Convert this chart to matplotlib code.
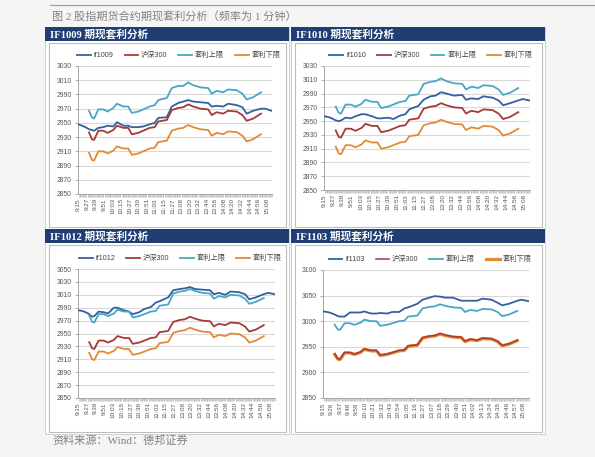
import numpy as np
import matplotlib
matplotlib.use('Agg')
import matplotlib.pyplot as plt
from matplotlib.patches import Rectangle

plt.rcParams['font.family'] = ['Liberation Sans', 'Noto Sans CJK SC']

# ---------------- data ----------------
N_MIN = 272  # 9:15-11:30 and 13:00-15:15, one point per minute
labels12 = ['9:15', '9:27', '9:39', '9:51', '10:03', '10:15', '10:27', '10:39', '10:51',
            '11:03', '11:15', '11:27', '13:08', '13:20', '13:32', '13:44', '13:56', '14:08',
            '14:20', '14:32', '14:44', '14:56', '15:08']
labels11 = ['9:15', '9:26', '9:37', '9:48', '9:59', '10:10', '10:21', '10:32', '10:43', '10:54',
            '11:05', '11:16', '11:27', '13:07', '13:18', '13:29', '13:40', '13:51', '14:02',
            '14:13', '14:24', '14:35', '14:46', '14:57', '15:08']

fut_idx = [0, 5, 10, 15, 19, 22, 28, 35, 41, 49, 54, 63, 70, 75, 84, 91, 100, 107, 112, 124, 131,
           140, 147, 154, 161, 171, 182, 187, 194, 203, 210, 222, 230, 236, 245, 256, 262, 271]
spot_idx = [15, 19, 22, 28, 35, 41, 49, 54, 63, 70, 75, 84, 91, 100, 107, 112, 124, 131,
            140, 147, 154, 161, 171, 182, 187, 194, 203, 210, 222, 230, 236, 245, 256]

hs300 = [2936.5, 2927, 2926, 2939, 2939, 2936, 2940, 2946, 2943, 2943, 2934, 2936, 2939, 2943, 2944,
         2952, 2954, 2968, 2971, 2972, 2976, 2973, 2970, 2969, 2961, 2965, 2963, 2967, 2966, 2961,
         2953, 2956, 2963]

if1009 = [2948, 2946, 2944, 2941, 2940, 2939, 2943, 2944, 2946, 2945, 2951, 2946, 2946, 2944, 2944,
          2945, 2948, 2950, 2957, 2958, 2973, 2978, 2980, 2982, 2980, 2979, 2978, 2973, 2974, 2973,
          2977, 2975, 2972, 2963, 2967, 2970, 2970, 2967]
up1009 = [2967, 2958, 2956, 2969, 2969, 2966, 2971, 2977, 2973, 2973, 2964, 2966, 2969, 2973, 2975,
          2982, 2985, 2999, 3002, 3002, 3007, 3003, 3000, 2999, 2991, 2995, 2993, 2997, 2996, 2991,
          2983, 2986, 2993]
lo1009 = [2908, 2898, 2897, 2910, 2910, 2907, 2911, 2917, 2914, 2914, 2905, 2907, 2910, 2914, 2915,
          2923, 2925, 2939, 2942, 2943, 2947, 2944, 2941, 2940, 2932, 2936, 2934, 2938, 2937, 2932,
          2924, 2927, 2934]

if1010 = [2957, 2956, 2954, 2951, 2950, 2951, 2955, 2954, 2957, 2960, 2960, 2957, 2954, 2954, 2955,
          2953, 2958, 2960, 2967, 2972, 2981, 2986, 2987, 2992, 2990, 2987, 2988, 2981, 2983, 2982,
          2986, 2984, 2980, 2973, 2976, 2980, 2982, 2980]
up1010 = [2971, 2962, 2961, 2974, 2974, 2971, 2975, 2981, 2978, 2978, 2969, 2971, 2974, 2978, 2979,
          2987, 2989, 3004, 3007, 3008, 3012, 3008, 3005, 3004, 2996, 3000, 2998, 3002, 3001, 2996,
          2988, 2991, 2998]
lo1010 = [2913, 2903, 2902, 2915, 2915, 2912, 2916, 2922, 2919, 2919, 2910, 2912, 2915, 2919, 2920,
          2928, 2930, 2944, 2947, 2948, 2952, 2949, 2946, 2945, 2937, 2941, 2939, 2943, 2942, 2937,
          2929, 2932, 2939]

if1012 = [2986, 2985, 2983, 2980, 2976, 2977, 2984, 2983, 2981, 2990, 2990, 2986, 2984, 2980, 2983,
          2988, 2991, 2998, 3000, 3006, 3017, 3019, 3020, 3022, 3019, 3018, 3017, 3011, 3013, 3010,
          3015, 3014, 3011, 3003, 3006, 3011, 3013, 3011]
up1012 = [2978, 2968, 2967, 2980, 2980, 2977, 2981, 2987, 2984, 2984, 2975, 2977, 2980, 2984, 2985,
          2993, 2995, 3012, 3015, 3016, 3019, 3016, 3013, 3012, 3004, 3008, 3006, 3010, 3009, 3004,
          2996, 2999, 3005]
lo1012 = [2920, 2910, 2909, 2922, 2922, 2919, 2923, 2929, 2926, 2926, 2917, 2919, 2922, 2926, 2927,
          2935, 2937, 2951, 2954, 2955, 2959, 2956, 2953, 2952, 2944, 2948, 2946, 2950, 2949, 2944,
          2936, 2939, 2946]

if1103 = [3019, 3018, 3016, 3013, 3010, 3009, 3009, 3017, 3017, 3017, 3019, 3015, 3015, 3016, 3015,
          3018, 3018, 3025, 3027, 3034, 3042, 3046, 3049, 3048, 3046, 3046, 3040, 3040, 3040, 3040,
          3044, 3042, 3036, 3031, 3034, 3040, 3042, 3039]
up1103 = [2993, 2984, 2983, 2996, 2996, 2993, 2997, 3003, 3000, 3000, 2991, 2993, 2996, 3000, 3001,
          3009, 3011, 3025, 3028, 3029, 3033, 3030, 3027, 3026, 3018, 3022, 3020, 3024, 3023, 3018,
          3010, 3013, 3020]
lo1103 = [2935, 2926, 2925, 2938, 2938, 2935, 2939, 2945, 2942, 2942, 2933, 2935, 2938, 2942, 2943,
          2951, 2953, 2967, 2970, 2971, 2975, 2972, 2969, 2968, 2960, 2964, 2962, 2966, 2965, 2960,
          2952, 2955, 2962]

panels = [
    dict(title='IF1009 期现套利分析', name='if1009', fut=if1009, up=up1009, lo=lo1009,
         ylim=(2850, 3030), ystep=20, labels=labels12, lstep=12),
    dict(title='IF1010 期现套利分析', name='if1010', fut=if1010, up=up1010, lo=lo1010,
         ylim=(2850, 3030), ystep=20, labels=labels12, lstep=12),
    dict(title='IF1012 期现套利分析', name='if1012', fut=if1012, up=up1012, lo=lo1012,
         ylim=(2850, 3050), ystep=20, labels=labels12, lstep=12),
    dict(title='IF1103 期现套利分析', name='if1103', fut=if1103, up=up1103, lo=lo1103,
         ylim=(2850, 3100), ystep=50, labels=labels11, lstep=11),
]

# ---------------- layout (pixels) ----------------
W, H = 595, 457
fig = plt.figure(figsize=(W / 100, H / 100), dpi=100, facecolor='#f5f5f5')


def rect(x0, y0, x1, y1, fc, ec='none', lw=0.8):
    fig.patches.append(Rectangle((x0 / W, 1 - y1 / H), (x1 - x0) / W, (y1 - y0) / H,
                                 transform=fig.transFigure, facecolor=fc, edgecolor=ec,
                                 linewidth=lw, zorder=-10))


def fx(x):
    return x / W


def fy(y):
    return 1 - y / H


# top rule and title
fig.add_artist(plt.Line2D([fx(50), fx(595)], [fy(5), fy(5)], color='#9a9a9a', lw=0.8,
                          transform=fig.transFigure))
fig.text(fx(52), fy(17), '图 2 股指期货合约期现套利分析（频率为 1 分钟）', fontsize=8,
         color='#808080', va='center', ha='left',
         family=['Liberation Serif', 'Noto Sans CJK SC'])
fig.text(fx(52), fy(440), '资料来源：Wind：德邦证券', fontsize=8, color='#808080',
         va='center', ha='left', family=['Liberation Serif', 'Noto Sans CJK SC'])

# panel frames: (x0, x1, header_y0, header_y1, box_y1, axes box)
frames = [
    (45, 289, 27, 41, 227, (78, 272, 66, 194)),
    (291, 545, 27, 41, 227, (324, 530, 66, 190)),
    (45, 289, 229, 243, 432, (78, 275, 269, 398)),
    (291, 545, 229, 243, 432, (323, 529, 270, 398)),
]

c_fut, c_hs, c_up, c_lo = '#34609f', '#a63a37', '#47a7c5', '#e38a34'

for p, (x0, x1, hy0, hy1, by1, (ax0, ax1, ay0, ay1)) in zip(panels, frames):
    rect(x0, hy0, x1, by1 + 2, '#ffffff', '#c8c8c8', 0.6)
    rect(x0, hy0, x1, hy1, '#1f3e73')
    rect(x0 + 4, hy1 + 2, x1 - 3, by1, '#ffffff', '#bdbdbd', 0.8)
    fig.text(fx(x0 + 5), fy((hy0 + hy1) / 2 + 0.5), p['title'], color='white', fontsize=7.7,
             fontweight='bold', va='center', ha='left', zorder=5,
             family=['Liberation Serif', 'Noto Sans CJK SC'])

    ax = fig.add_axes([fx(ax0), fy(ay1), (ax1 - ax0) / W, (ay1 - ay0) / H])
    ax.set_zorder(3)
    ax.set_facecolor('white')
    if p['name'] == 'if1103':
        ax.plot(fut_idx, p['fut'], color=c_fut, lw=1.3, label=p['name'], zorder=4)
        ax.plot(spot_idx, hs300, color=c_hs, lw=1.1, label='沪深300', zorder=5)
        ax.plot(spot_idx, p['up'], color=c_up, lw=1.3, label='套利上限', zorder=3)
        ax.plot(spot_idx, p['lo'], color=c_lo, lw=2.3, label='套利下限', zorder=2)
    else:
        ax.plot(fut_idx, p['fut'], color=c_fut, lw=1.3, label=p['name'], zorder=3)
        ax.plot(spot_idx, hs300, color=c_hs, lw=1.3, label='沪深300', zorder=3)
        ax.plot(spot_idx, p['up'], color=c_up, lw=1.3, label='套利上限', zorder=3)
        ax.plot(spot_idx, p['lo'], color=c_lo, lw=1.3, label='套利下限', zorder=3)

    ax.set_xlim(-0.5, N_MIN - 0.5)
    ax.set_ylim(*p['ylim'])
    ax.set_yticks(np.arange(p['ylim'][0], p['ylim'][1] + 1, p['ystep']))
    ax.yaxis.grid(True, color='#d9d9d9', lw=0.8)
    ax.set_axisbelow(True)
    pos = np.arange(len(p['labels'])) * p['lstep']
    ax.set_xticks(pos)
    ax.set_xticklabels(p['labels'], rotation=90, fontsize=4.6, color='#555555')
    ax.set_xticks(np.arange(N_MIN), minor=True)
    ax.tick_params(axis='x', which='major', length=0, pad=3)
    ax.tick_params(axis='x', which='minor', length=2.2, width=0.4, color='#b0b0b0')
    ax.tick_params(axis='y', length=2.5, width=0.6, color='#a0a0a0', labelsize=4.9,
                   labelcolor='#555555', pad=2)
    for s in ('top', 'right'):
        ax.spines[s].set_visible(False)
    for s in ('left', 'bottom'):
        ax.spines[s].set_color('#a8a8a8')
        ax.spines[s].set_linewidth(0.7)
    leg_off = 10.5 / (ay1 - ay0)
    ax.legend(loc='center', bbox_to_anchor=(0.52, 1 + leg_off), ncol=4, frameon=False,
              fontsize=5.2, handlelength=1.9, columnspacing=1.5, handletextpad=0.4,
              borderaxespad=0, labelcolor='#444444')

fig.savefig('out.png', dpi=100, facecolor=fig.get_facecolor())
